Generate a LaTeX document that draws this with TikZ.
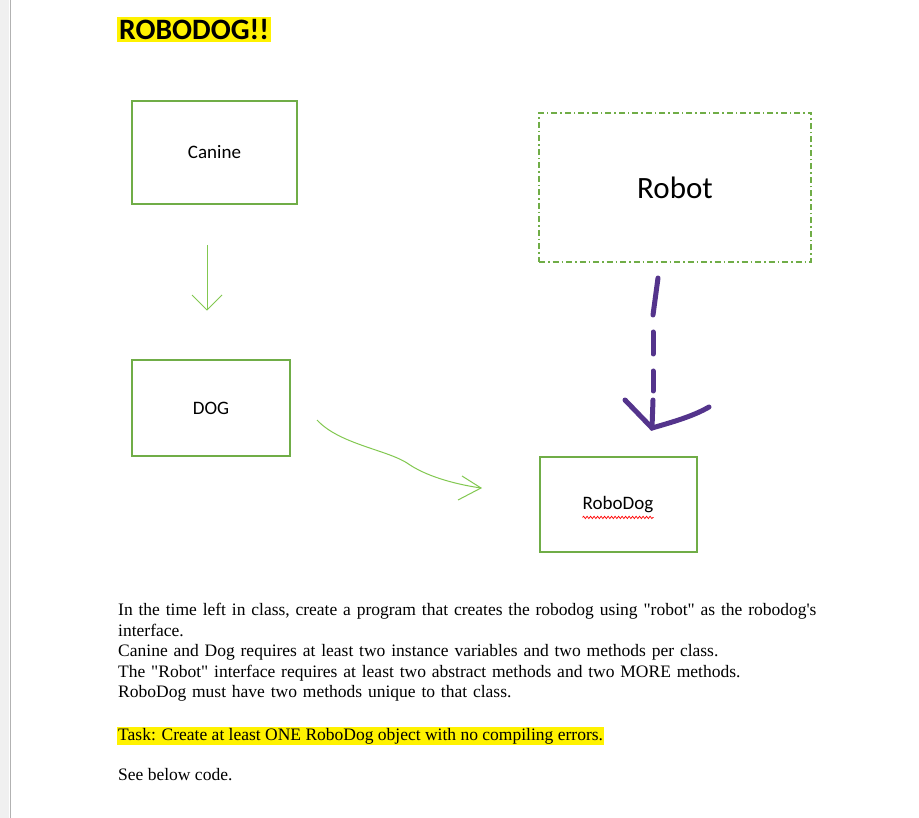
\documentclass[tikz,border=0pt]{standalone}
\usepackage{fontspec}
\setmainfont{Liberation Serif}[Ligatures=TeXOff]
\newfontfamily\carfont{Carlito}
\usetikzlibrary{decorations.pathmorphing}
\definecolor{gbox}{RGB}{112,173,71}
\definecolor{garr}{RGB}{130,200,80}
\definecolor{purp}{RGB}{84,52,140}
\begin{document}
\begin{tikzpicture}[x=1pt,y=-1pt,
  box/.style={draw=gbox,line width=1.5pt,inner sep=0pt,font=\carfont\fontsize{19}{21}\selectfont},
  garrow/.style={draw=garr,line width=1pt},
  parrow/.style={draw=purp,line width=5pt,line cap=round},
  bodyfont/.style={font=\fontsize{17.5}{20.6}\selectfont}]
\useasboundingbox (0,0) rectangle (919,818);
\fill[white] (0,0) rectangle (919,818);
\fill[black!6] (0,0) rectangle (9,818);
\draw[black!30,line width=1pt] (10,0) -- (10,818);
\node[fill=yellow,inner sep=2pt,anchor=north west,font=\carfont\bfseries\fontsize{29.6}{31}\selectfont] (title) at (117,17) {ROBODOG!!};
\node[box,minimum width=165pt,minimum height=103pt] (canine) at (214.5,152.5) {Canine};
\node[box,minimum width=158pt,minimum height=96pt] (dog) at (211,408) {DOG};
\node[box,draw=gbox,dash pattern=on 6pt off 3pt on 1.5pt off 3pt,minimum width=272pt,minimum height=149pt,font=\carfont\fontsize{31}{33}\selectfont] (robot) at (675,187.5) {Robot};
\node[box,minimum width=157pt,minimum height=95pt] (robodog) at (618.5,504.5) {};
\node[font=\carfont\fontsize{19}{21}\selectfont,inner sep=0pt] (rdt) at (618,505) {RoboDog};
\draw[red,line width=0.7pt,decorate,decoration={snake,amplitude=1.2pt,segment length=3.5pt}] ([yshift=-4pt]rdt.south west) -- ([yshift=-4pt]rdt.south east);
% canine -> dog
\coordinate (a1) at (207,245);
\coordinate (a2) at (207,310);
\draw[garrow] (a1) -- (a2);
\draw[garrow] (192,295) -- (a2) -- (222,295);
% dog -> robodog
\coordinate (b1) at (317,420);
\coordinate (b2) at (481,488);
\draw[garrow] (b1) .. controls (340,445) and (390,450) .. (410,465) .. controls (430,478) and (460,485) .. (b2);
\draw[garrow] (462,476) -- (b2) -- (458,500);
% robot -> robodog
\coordinate (c1) at (658,278);
\coordinate (c2) at (652,428);
\draw[parrow] (c1) -- (653,315);
\draw[parrow] (653,332) -- (653,354);
\draw[parrow] (653,371) -- (653,391);
\draw[parrow] (653,400) -- (c2);
\draw[parrow] (625,400) -- (c2) .. controls (680,420) and (695,415) .. (709,407);
% text
\node[anchor=north west,align=left,text width=720pt,bodyfont,inner sep=0pt] (body) at (118,603) {In the time left in class, create a program that creates the robodog using "robot" as the robodog's\\ interface.\\
Canine and Dog requires at least two instance variables and two methods per class.\\
The "Robot" interface requires at least two abstract methods and two MORE methods.\\
RoboDog must have two methods unique to that class.};
\node[anchor=north west,fill=yellow,inner sep=1pt,bodyfont] (task) at (117,727) {Task: Create at least ONE RoboDog object with no compiling errors.};
\node[anchor=north west,inner sep=0pt,bodyfont] (see) at (118,768) {See below code.};
\end{tikzpicture}
\end{document}
